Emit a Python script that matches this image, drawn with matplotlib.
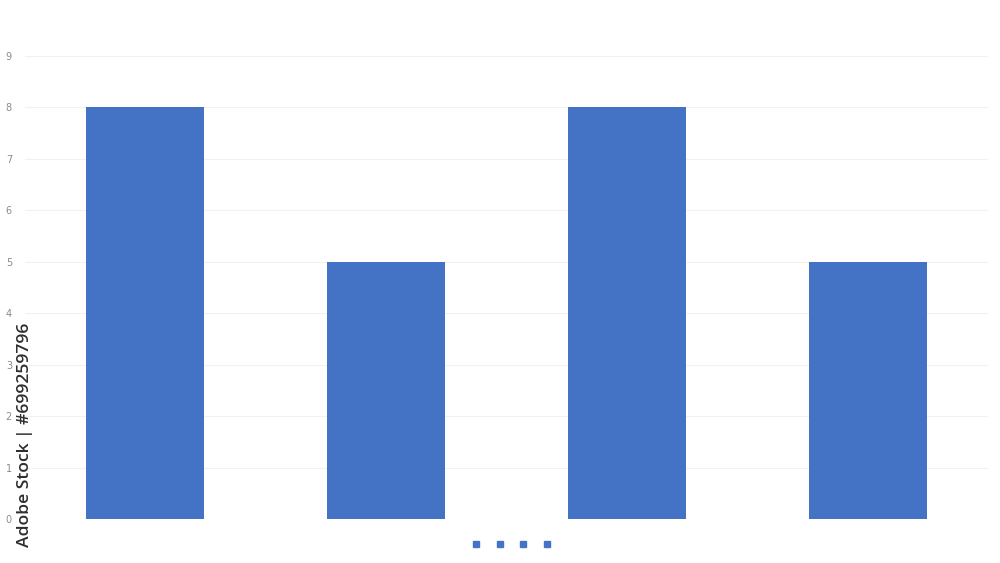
import matplotlib
matplotlib.use("Agg")
import matplotlib.pyplot as plt
from matplotlib.lines import Line2D

categories = ["A", "B", "C", "D"]
values = [8, 5, 8, 5]
yticks = [0, 1, 2, 3, 4, 5, 6, 7, 8, 9]
bar_color = "#4472C4"

fig = plt.figure(figsize=(10, 5.63), dpi=100)
ax = fig.add_axes([0.0245, 0.0782, 0.964, 0.8223])
x = list(range(len(categories)))
ax.bar(x, values, width=0.49, color=bar_color, zorder=3)
ax.set_xlim(-0.5, len(categories) - 0.5)
ax.set_ylim(0, 9)
ax.set_yticks(yticks)
ax.set_yticklabels([str(t) for t in yticks], color="#8a8a8a", fontsize=7)
ax.set_xticks([])
ax.tick_params(axis="y", length=0, pad=9)
ax.grid(axis="y", color="#f2f2ec", linewidth=0.8, zorder=0)
for s in ax.spines.values():
    s.set_visible(False)

handles = [Line2D([], [], linestyle="none", marker="s", markersize=5,
                  color=bar_color) for _ in categories]
fig.legend(handles, [""] * len(categories), loc="center",
           bbox_to_anchor=(0.5115, 0.032), ncol=4, frameon=False,
           handlelength=0.6, handletextpad=0.0, columnspacing=1.1)

fig.text(0.025, 0.227, "Adobe Stock | #699259796", rotation=90,
         ha="center", va="center", fontsize=12.6, color="#2e2e2e",
         fontweight="semibold", family="Open Sans")

fig.savefig("out.png", dpi=100)
